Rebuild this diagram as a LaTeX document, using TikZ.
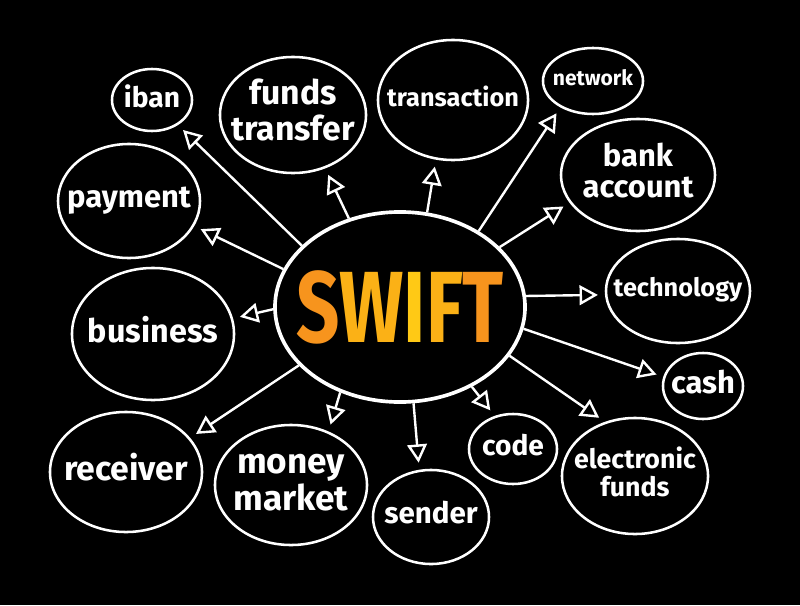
\documentclass[tikz,border=0pt]{standalone}
\usepackage{fontspec}
\setmainfont{Fira Sans}
\newfontfamily\swiftfont{Fira Sans}[FakeStretch=0.75]
\usetikzlibrary{shapes.geometric, arrows.meta}
\definecolor{swiftA}{HTML}{F7941D}
\definecolor{swiftB}{HTML}{FBB116}
\definecolor{swiftC}{HTML}{FFC915}
\newcommand{\lbl}[2]{\makebox[0pt]{\fontsize{#1}{#1}\selectfont\bfseries\begin{tabular}{@{}c@{}}#2\end{tabular}}}
\begin{document}
\begin{tikzpicture}[x=0.025cm, y=-0.025cm,
            bub/.style 2 args={draw=white, ellipse, inner sep=0pt, line width=1.8pt, text=white,
              minimum width=#1*0.05cm, minimum height=#2*0.05cm},
            arr/.style={-{Triangle[open, length=13pt, width=14pt]}, white, line width=1.7pt, shorten >=5pt}]
            \fill[black] (0,0) rectangle (800,605);

            \node[bub={125}{95}, line width=2.6pt] (swift) at (400,307)
              {\makebox[0pt]{\swiftfont\fontsize{72}{72}\selectfont\bfseries
               \textcolor{swiftA}{S}\textcolor{swiftB}{W}\textcolor{swiftC}{I}\textcolor{swiftB}{F}\textcolor{swiftA}{T}}};

            \node[bub={40}{31}] (iban) at (152,100) {\lbl{20}{iban}};
            \node[bub={73}{58}] (funds) at (293,115) {\lbl{24}{funds\\transfer}};
            \node[bub={75}{60}] (transaction) at (453,100) {\lbl{18}{transaction}};
            \node[bub={50}{33}] (network) at (593,81) {\lbl{15}{network}};
            \node[bub={77}{56}] (bank) at (638,175) {\lbl{22}{bank\\account}};
            \node[bub={72}{52}] (technology) at (678,291) {\lbl{18}{technology}};
            \node[bub={40}{33}] (cash) at (703,386) {\lbl{22}{cash}};
            \node[bub={73}{58}] (electronic) at (635,476) {\lbl{19}{electronic\\funds}};
            \node[bub={44}{35}] (code) at (513,449) {\lbl{20}{code}};
            \node[bub={58}{47}] (sender) at (431,517) {\lbl{21}{sender}};
            \node[bub={76}{60}] (money) at (291,485) {\lbl{25}{money\\market}};
            \node[bub={76}{60}] (receiver) at (126,472) {\lbl{24}{receiver}};
            \node[bub={81}{66}] (business) at (153,334) {\lbl{23}{business}};
            \node[bub={71}{57}] (payment) at (129,201) {\lbl{22}{payment}};

            \draw[arr] (swift.148) -- (iban.-44);
            \draw[arr] (swift.120) -- (funds.-59);
            \draw[arr] (swift.74) -- (transaction.-106);
            \draw[arr] (swift.44) -- (network.-141);
            \draw[arr] (swift.31) -- (bank.-158);
            \draw[arr] (swift.5) -- (technology.183);
            \draw[arr] (swift.-10) -- (cash.167);
            \draw[arr] (swift.-24) -- (electronic.119);
            \draw[arr] (swift.-48) -- (code.119);
            \draw[arr] (swift.-82) -- (sender.104);
            \draw[arr] (swift.235) -- (money.55);
            \draw[arr] (swift.210) -- (receiver.28);
            \draw[arr] (swift.181) -- (business.11);
            \draw[arr] (swift.162) -- (payment.-21);
        \end{tikzpicture}
\end{document}
